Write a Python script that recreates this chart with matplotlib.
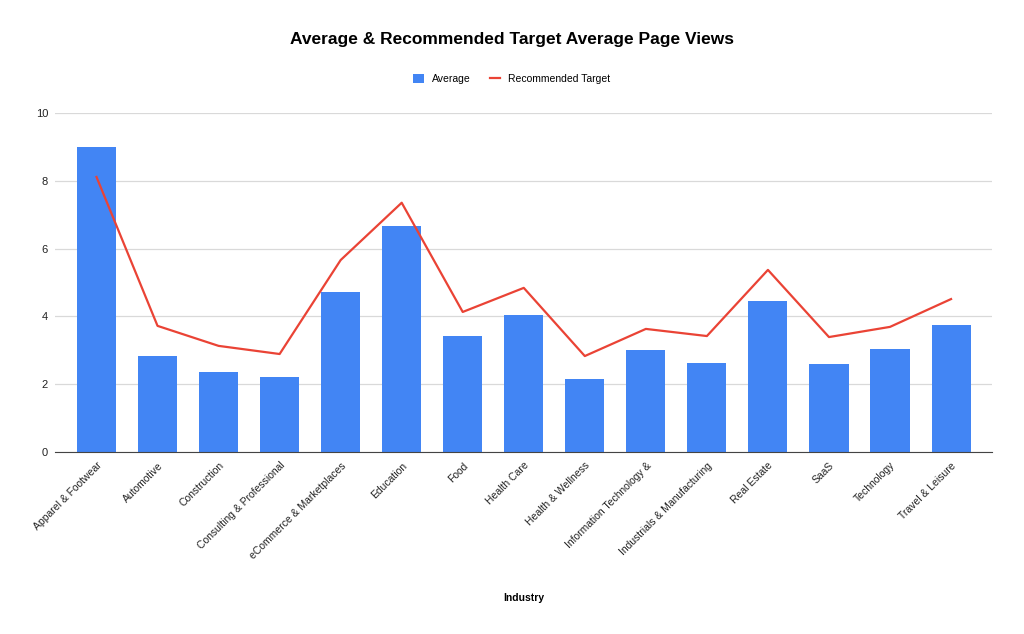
import matplotlib.pyplot as plt
import numpy as np

plt.rcParams['font.family'] = ['Liberation Sans', 'DejaVu Sans']

industries = ['Apparel & Footwear', 'Automotive', 'Construction', 'Consulting & Professional',
              'eCommerce & Marketplaces', 'Education', 'Food', 'Health Care', 'Health & Wellness',
              'Information Technology &', 'Industrials & Manufacturing', 'Real Estate', 'SaaS',
              'Technology', 'Travel & Leisure']
average = [9.0, 2.83, 2.36, 2.21, 4.72, 6.67, 3.42, 4.04, 2.15, 3.01, 2.63, 4.45, 2.6, 3.04, 3.75]
target = [8.11, 3.72, 3.13, 2.89, 5.66, 7.35, 4.13, 4.84, 2.83, 3.63, 3.42, 5.37, 3.39, 3.69, 4.51]

x = np.arange(len(industries))

fig = plt.figure(figsize=(10.24, 6.34), dpi=100)
ax = fig.add_axes([0.0537, 0.287, 0.915, 0.535])

bars = ax.bar(x, average, width=0.64, color='#4285F4', label='Average', zorder=2)
line, = ax.plot(x, target, color='#EA4335', lw=1.6, label='Recommended Target', zorder=3)

ax.set_xlim(-0.68, 14.67)
ax.set_ylim(0, 10)
ax.set_yticks([0, 2, 4, 6, 8, 10])
ax.grid(axis='y', color='#d9d9d9', lw=0.9, zorder=0)
ax.set_axisbelow(True)
for s in ['top', 'right', 'left']:
    ax.spines[s].set_visible(False)
ax.spines['bottom'].set_color('#444444')
ax.tick_params(axis='both', length=0, labelsize=7.5, colors='#222222', pad=6)
ax.tick_params(axis='y', labelsize=8, pad=5)

ax.set_xticks(x)
ax.set_xticklabels(industries, rotation=45, ha='right', rotation_mode='anchor')

ax.set_xlabel('Industry', fontsize=7.5, fontweight='bold')
ax.xaxis.set_label_coords(0.5, -0.415)

fig.suptitle('Average & Recommended Target Average Page Views', fontsize=12.5,
             fontweight='bold', y=0.95)
fig.legend([bars, line], ['Average', 'Recommended Target'], loc='center',
           bbox_to_anchor=(0.5, 0.876), ncol=2, frameon=False,
           fontsize=7.5, handlelength=1.0, handleheight=1.0, columnspacing=1.8)

fig.savefig('out.png', dpi=100)
